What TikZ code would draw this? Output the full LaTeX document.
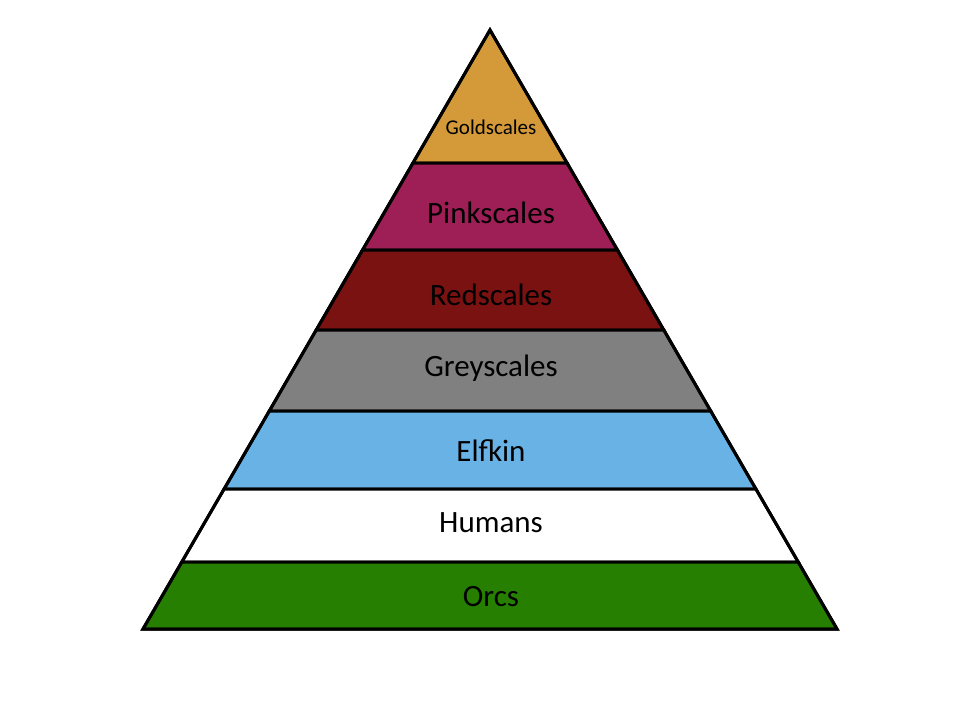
\documentclass[tikz,border=0pt]{standalone}
\usepackage{fontspec}
\setmainfont{Carlito}
\begin{document}
\begin{tikzpicture}[x=1pt,y=-1pt,
  layer/.style={draw=black,line width=3pt,line join=miter},
  lbl/.style={font=\fontsize{31}{36}\selectfont,text=black,inner sep=0pt},
  smalllbl/.style={font=\fontsize{21}{25}\selectfont,text=black,inner sep=0pt}]
\definecolor{cgold}{RGB}{212,154,58}
\definecolor{cpink}{RGB}{158,31,86}
\definecolor{cred}{RGB}{122,18,18}
\definecolor{cgrey}{RGB}{128,128,128}
\definecolor{cblue}{RGB}{104,178,230}
\definecolor{cgreen}{RGB}{38,127,0}
\useasboundingbox (0,0) rectangle (979,720);
\fill[white] (0,0) rectangle (979,720);
\path[layer,fill=cgold] (490,30) -- (567.05,163) -- (412.95,163) -- cycle;
\path[layer,fill=cpink] (412.95,163) -- (567.05,163) -- (617.45,250) -- (362.55,250) -- cycle;
\path[layer,fill=cred] (362.55,250) -- (617.45,250) -- (663.8,330) -- (316.2,330) -- cycle;
\path[layer,fill=cgrey] (316.2,330) -- (663.8,330) -- (710.7,411) -- (269.3,411) -- cycle;
\path[layer,fill=cblue] (269.3,411) -- (710.7,411) -- (755.9,489) -- (224.1,489) -- cycle;
\path[layer,fill=white] (224.1,489) -- (755.9,489) -- (798.2,562) -- (181.8,562) -- cycle;
\path[layer,fill=cgreen] (181.8,562) -- (798.2,562) -- (837,629) -- (143,629) -- cycle;
\draw[layer] (490,30) -- (837,629) -- (143,629) -- cycle;
\node[smalllbl] (gold) at (491,127) {Goldscales};
\node[lbl] (pink) at (491,213) {Pinkscales};
\node[lbl] (red) at (491,295) {Redscales};
\node[lbl] (grey) at (491,368) {Greyscales};
\node[lbl] (elf) at (491,451) {Elfkin};
\node[lbl] (hum) at (491,523) {Humans};
\node[lbl] (orc) at (491,597) {Orcs};
\end{tikzpicture}
\end{document}
